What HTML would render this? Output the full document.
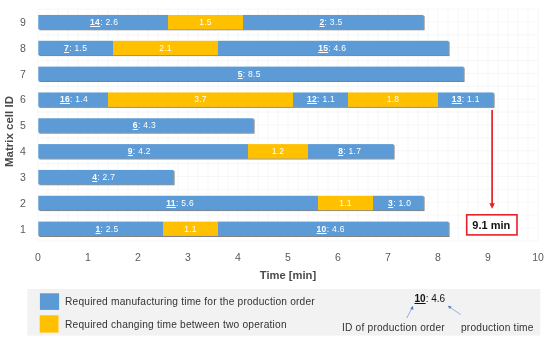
<!DOCTYPE html>
<html><head><meta charset="utf-8"><title>Gantt</title>
<style>
html,body{margin:0;padding:0;background:#fff;}
body{width:550px;height:343px;position:relative;overflow:hidden;font-family:"Liberation Sans",sans-serif;}
.a{position:absolute;}
.seg{position:absolute;height:14.3px;color:#fff;font-size:8.5px;letter-spacing:0.3px;line-height:14.3px;text-align:center;white-space:nowrap;}
.seg b{text-decoration:underline;}
.bar{position:absolute;height:14.3px;box-shadow:1px 1px 2px rgba(0,0,0,.35);}
.yl{position:absolute;left:14px;width:18px;text-align:center;font-size:10.5px;color:#595959;line-height:12px;}
.xl{position:absolute;top:251.3px;width:30px;text-align:center;font-size:10.5px;color:#595959;line-height:12px;}
.lt{position:absolute;font-size:10.2px;letter-spacing:0.2px;color:#333;white-space:nowrap;line-height:12px;}
</style></head><body>

<svg class="a" style="left:0;top:0" width="550" height="343" viewBox="0 0 550 343"><rect x="27.4" y="289" width="512.9" height="46.6" fill="#f2f2f2"/><rect x="39.9" y="293.3" width="19.2" height="16.6" fill="#5b9bd5"/><rect x="39.7" y="315.3" width="18.8" height="17.3" fill="#ffc000"/></svg>
<svg class="a" style="left:0;top:0" width="550" height="343" viewBox="0 0 550 343">
<g stroke="#f2f2f2" stroke-width="0.6" fill="none">
<line x1="38" y1="9.1" x2="38" y2="240.8"/>
<line x1="48" y1="9.1" x2="48" y2="240.8"/>
<line x1="58" y1="9.1" x2="58" y2="240.8"/>
<line x1="68" y1="9.1" x2="68" y2="240.8"/>
<line x1="78" y1="9.1" x2="78" y2="240.8"/>
<line x1="88" y1="9.1" x2="88" y2="240.8"/>
<line x1="98" y1="9.1" x2="98" y2="240.8"/>
<line x1="108" y1="9.1" x2="108" y2="240.8"/>
<line x1="118" y1="9.1" x2="118" y2="240.8"/>
<line x1="128" y1="9.1" x2="128" y2="240.8"/>
<line x1="138" y1="9.1" x2="138" y2="240.8"/>
<line x1="148" y1="9.1" x2="148" y2="240.8"/>
<line x1="158" y1="9.1" x2="158" y2="240.8"/>
<line x1="168" y1="9.1" x2="168" y2="240.8"/>
<line x1="178" y1="9.1" x2="178" y2="240.8"/>
<line x1="188" y1="9.1" x2="188" y2="240.8"/>
<line x1="198" y1="9.1" x2="198" y2="240.8"/>
<line x1="208" y1="9.1" x2="208" y2="240.8"/>
<line x1="218" y1="9.1" x2="218" y2="240.8"/>
<line x1="228" y1="9.1" x2="228" y2="240.8"/>
<line x1="238" y1="9.1" x2="238" y2="240.8"/>
<line x1="248" y1="9.1" x2="248" y2="240.8"/>
<line x1="258" y1="9.1" x2="258" y2="240.8"/>
<line x1="268" y1="9.1" x2="268" y2="240.8"/>
<line x1="278" y1="9.1" x2="278" y2="240.8"/>
<line x1="288" y1="9.1" x2="288" y2="240.8"/>
<line x1="298" y1="9.1" x2="298" y2="240.8"/>
<line x1="308" y1="9.1" x2="308" y2="240.8"/>
<line x1="318" y1="9.1" x2="318" y2="240.8"/>
<line x1="328" y1="9.1" x2="328" y2="240.8"/>
<line x1="338" y1="9.1" x2="338" y2="240.8"/>
<line x1="348" y1="9.1" x2="348" y2="240.8"/>
<line x1="358" y1="9.1" x2="358" y2="240.8"/>
<line x1="368" y1="9.1" x2="368" y2="240.8"/>
<line x1="378" y1="9.1" x2="378" y2="240.8"/>
<line x1="388" y1="9.1" x2="388" y2="240.8"/>
<line x1="398" y1="9.1" x2="398" y2="240.8"/>
<line x1="408" y1="9.1" x2="408" y2="240.8"/>
<line x1="418" y1="9.1" x2="418" y2="240.8"/>
<line x1="428" y1="9.1" x2="428" y2="240.8"/>
<line x1="438" y1="9.1" x2="438" y2="240.8"/>
<line x1="448" y1="9.1" x2="448" y2="240.8"/>
<line x1="458" y1="9.1" x2="458" y2="240.8"/>
<line x1="468" y1="9.1" x2="468" y2="240.8"/>
<line x1="478" y1="9.1" x2="478" y2="240.8"/>
<line x1="488" y1="9.1" x2="488" y2="240.8"/>
<line x1="498" y1="9.1" x2="498" y2="240.8"/>
<line x1="508" y1="9.1" x2="508" y2="240.8"/>
<line x1="518" y1="9.1" x2="518" y2="240.8"/>
<line x1="528" y1="9.1" x2="528" y2="240.8"/>
<line x1="538" y1="9.1" x2="538" y2="240.8"/>
<line x1="38" y1="9.10" x2="538" y2="9.10"/>
<line x1="38" y1="21.97" x2="538" y2="21.97"/>
<line x1="38" y1="34.84" x2="538" y2="34.84"/>
<line x1="38" y1="47.72" x2="538" y2="47.72"/>
<line x1="38" y1="60.59" x2="538" y2="60.59"/>
<line x1="38" y1="73.46" x2="538" y2="73.46"/>
<line x1="38" y1="86.33" x2="538" y2="86.33"/>
<line x1="38" y1="99.21" x2="538" y2="99.21"/>
<line x1="38" y1="112.08" x2="538" y2="112.08"/>
<line x1="38" y1="124.95" x2="538" y2="124.95"/>
<line x1="38" y1="137.82" x2="538" y2="137.82"/>
<line x1="38" y1="150.69" x2="538" y2="150.69"/>
<line x1="38" y1="163.57" x2="538" y2="163.57"/>
<line x1="38" y1="176.44" x2="538" y2="176.44"/>
<line x1="38" y1="189.31" x2="538" y2="189.31"/>
<line x1="38" y1="202.18" x2="538" y2="202.18"/>
<line x1="38" y1="215.06" x2="538" y2="215.06"/>
<line x1="38" y1="227.93" x2="538" y2="227.93"/>
<line x1="38" y1="240.80" x2="538" y2="240.80"/>
</g>
</svg>
<div class="yl" style="top:15.90px">9</div>
<div class="yl" style="top:41.73px">8</div>
<div class="yl" style="top:67.56px">7</div>
<div class="yl" style="top:93.39px">6</div>
<div class="yl" style="top:119.22px">5</div>
<div class="yl" style="top:145.05px">4</div>
<div class="yl" style="top:170.88px">3</div>
<div class="yl" style="top:196.71px">2</div>
<div class="yl" style="top:222.54px">1</div>
<svg class="a" style="left:0;top:0" width="550" height="343" viewBox="0 0 550 343">
<defs><filter id="sh" x="-5%" y="-30%" width="110%" height="180%"><feGaussianBlur in="SourceAlpha" stdDeviation="0.65"/><feOffset dx="0.7" dy="0.9"/><feComponentTransfer><feFuncA type="linear" slope="0.55"/></feComponentTransfer><feMerge><feMergeNode/><feMergeNode in="SourceGraphic"/></feMerge></filter></defs>
<g filter="url(#sh)">
<rect x="38.30" y="14.95" width="129.70" height="14.30" fill="#5b9bd5"/>
<rect x="168.00" y="14.95" width="75.00" height="14.30" fill="#ffc000"/>
<rect x="243.00" y="14.95" width="180.50" height="14.30" fill="#5b9bd5"/>
</g>
<g filter="url(#sh)">
<rect x="38.30" y="40.78" width="74.70" height="14.30" fill="#5b9bd5"/>
<rect x="113.00" y="40.78" width="105.00" height="14.30" fill="#ffc000"/>
<rect x="218.00" y="40.78" width="230.50" height="14.30" fill="#5b9bd5"/>
</g>
<g filter="url(#sh)">
<rect x="38.30" y="66.61" width="425.20" height="14.30" fill="#5b9bd5"/>
</g>
<g filter="url(#sh)">
<rect x="38.30" y="92.44" width="69.70" height="14.30" fill="#5b9bd5"/>
<rect x="108.00" y="92.44" width="185.00" height="14.30" fill="#ffc000"/>
<rect x="293.00" y="92.44" width="55.00" height="14.30" fill="#5b9bd5"/>
<rect x="348.00" y="92.44" width="90.00" height="14.30" fill="#ffc000"/>
<rect x="438.00" y="92.44" width="55.50" height="14.30" fill="#5b9bd5"/>
</g>
<g filter="url(#sh)">
<rect x="38.30" y="118.27" width="215.20" height="14.30" fill="#5b9bd5"/>
</g>
<g filter="url(#sh)">
<rect x="38.30" y="144.10" width="209.70" height="14.30" fill="#5b9bd5"/>
<rect x="248.00" y="144.10" width="60.00" height="14.30" fill="#ffc000"/>
<rect x="308.00" y="144.10" width="85.50" height="14.30" fill="#5b9bd5"/>
</g>
<g filter="url(#sh)">
<rect x="38.30" y="169.93" width="135.20" height="14.30" fill="#5b9bd5"/>
</g>
<g filter="url(#sh)">
<rect x="38.30" y="195.76" width="279.70" height="14.30" fill="#5b9bd5"/>
<rect x="318.00" y="195.76" width="55.00" height="14.30" fill="#ffc000"/>
<rect x="373.00" y="195.76" width="50.50" height="14.30" fill="#5b9bd5"/>
</g>
<g filter="url(#sh)">
<rect x="38.30" y="221.59" width="124.70" height="14.30" fill="#5b9bd5"/>
<rect x="163.00" y="221.59" width="55.00" height="14.30" fill="#ffc000"/>
<rect x="218.00" y="221.59" width="230.50" height="14.30" fill="#5b9bd5"/>
</g>
</svg>
<div class="seg" style="left:39.30px;top:14.95px;width:129.70px"><b>14</b>: 2.6</div>
<div class="seg" style="left:168.00px;top:14.95px;width:75.00px">1.5</div>
<div class="seg" style="left:240.80px;top:14.95px;width:180.50px"><b>2</b>: 3.5</div>
<div class="seg" style="left:38.30px;top:40.78px;width:74.70px"><b>7</b>: 1.5</div>
<div class="seg" style="left:113.00px;top:40.78px;width:105.00px">2.1</div>
<div class="seg" style="left:217.00px;top:40.78px;width:230.50px"><b>15</b>: 4.6</div>
<div class="seg" style="left:36.70px;top:66.61px;width:425.20px"><b>5</b>: 8.5</div>
<div class="seg" style="left:39.10px;top:92.44px;width:69.70px"><b>16</b>: 1.4</div>
<div class="seg" style="left:108.00px;top:92.44px;width:185.00px">3.7</div>
<div class="seg" style="left:293.60px;top:92.44px;width:55.00px"><b>12</b>: 1.1</div>
<div class="seg" style="left:348.00px;top:92.44px;width:90.00px">1.8</div>
<div class="seg" style="left:438.00px;top:92.44px;width:55.50px"><b>13</b>: 1.1</div>
<div class="seg" style="left:36.80px;top:118.27px;width:215.20px"><b>6</b>: 4.3</div>
<div class="seg" style="left:34.50px;top:144.10px;width:209.70px"><b>9</b>: 4.2</div>
<div class="seg" style="left:248.00px;top:144.10px;width:60.00px">1.2</div>
<div class="seg" style="left:307.00px;top:144.10px;width:85.50px"><b>8</b>: 1.7</div>
<div class="seg" style="left:36.20px;top:169.93px;width:135.20px"><b>4</b>: 2.7</div>
<div class="seg" style="left:40.30px;top:195.76px;width:279.70px"><b>11</b>: 5.6</div>
<div class="seg" style="left:318.00px;top:195.76px;width:55.00px">1.1</div>
<div class="seg" style="left:374.40px;top:195.76px;width:50.50px"><b>3</b>: 1.0</div>
<div class="seg" style="left:44.70px;top:221.59px;width:124.70px"><b>1</b>: 2.5</div>
<div class="seg" style="left:163.00px;top:221.59px;width:55.00px">1.1</div>
<div class="seg" style="left:215.40px;top:221.59px;width:230.50px"><b>10</b>: 4.6</div>
<div class="xl" style="left:23px">0</div>
<div class="xl" style="left:73px">1</div>
<div class="xl" style="left:123px">2</div>
<div class="xl" style="left:173px">3</div>
<div class="xl" style="left:223px">4</div>
<div class="xl" style="left:273px">5</div>
<div class="xl" style="left:323px">6</div>
<div class="xl" style="left:373px">7</div>
<div class="xl" style="left:423px">8</div>
<div class="xl" style="left:473px">9</div>
<div class="xl" style="left:523px">10</div>
<div class="a" style="left:238px;top:269px;width:100px;text-align:center;font-size:11.2px;font-weight:bold;color:#4a4a4a;line-height:13px;">Time [min]</div>
<div class="a" style="left:-41.5px;top:125px;width:100px;height:13px;text-align:center;font-size:11.5px;font-weight:bold;color:#4a4a4a;line-height:13px;transform:rotate(-90deg);white-space:nowrap;">Matrix cell ID</div>
<svg class="a" style="left:0;top:0" width="550" height="343" viewBox="0 0 550 343"><line x1="492.1" y1="110" x2="492.1" y2="204" stroke="#e6202a" stroke-width="1.7"/><polygon points="489.3,203.2 494.9,203.2 492.1,208.8" fill="#e6202a"/><rect x="466.7" y="214.8" width="50.3" height="20.1" fill="#fff" stroke="#e6202a" stroke-width="1.6"/><g stroke="#6f8fd0" stroke-width="0.7" fill="#4d78c8"><line x1="406.8" y1="318" x2="412.3" y2="307.3"/><polygon stroke="none" points="413,305.8 410.3,308.6 413.3,310"/><line x1="460.6" y1="314.5" x2="449" y2="306.6"/><polygon stroke="none" points="447.7,305.7 451.5,306.4 449.8,309"/></g></svg>
<div class="a" style="left:466px;top:218.5px;width:50.5px;text-align:center;font-size:11px;font-weight:bold;color:#111;line-height:13px;">9.1 min</div>
<div class="lt" style="left:65px;top:295.7px;">Required manufacturing time for the production order</div>
<div class="lt" style="left:65px;top:318.6px;">Required changing time between two operation</div>
<div class="lt" style="left:414.5px;top:293px;color:#111;font-size:10px;letter-spacing:0"><b style="text-decoration:underline">10</b>: 4.6</div>
<div class="lt" style="left:342px;top:322.4px;">ID of production order</div>
<div class="lt" style="left:461px;top:322.4px;">production time</div>
</body></html>
